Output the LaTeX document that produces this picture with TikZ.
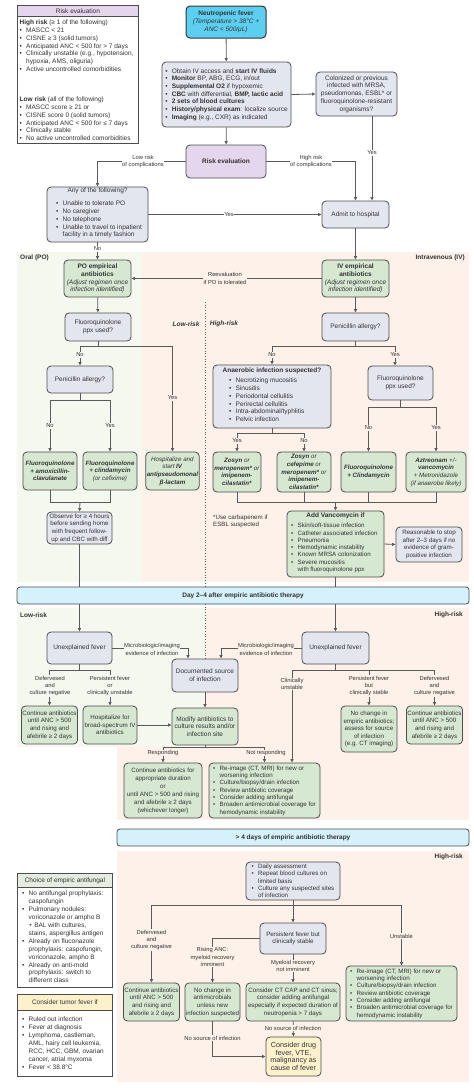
\documentclass[tikz,border=0pt]{standalone}
\usepackage{fontspec}
\setmainfont{Liberation Sans}
\usetikzlibrary{arrows.meta}
\definecolor{txt}{HTML}{333333}
\definecolor{bd}{HTML}{4D4D4D}
\definecolor{lc}{HTML}{5A5A5A}
\definecolor{gfill}{HTML}{E3E6EE}
\definecolor{nfill}{HTML}{D6E7D2}
\definecolor{pfill}{HTML}{E4D6EC}
\definecolor{cfill}{HTML}{5CCFF0}
\definecolor{bfill}{HTML}{D5F1FB}
\definecolor{yfill}{HTML}{FDF1CC}
\definecolor{peach}{HTML}{FDF1E9}
\definecolor{pogrn}{HTML}{F5F8EE}
\definecolor{afhd}{HTML}{E5ECE0}
\newcommand\fA{\fontsize{6.5}{7.7}\selectfont}
\newcommand\fB{\fontsize{6.2}{7.6}\selectfont}
\newcommand\fL{\fontsize{5.8}{7.3}\selectfont}
\newcommand\fR{\fontsize{6.2}{7.3}\selectfont}
\newcommand\mybu{\makebox[6.5pt][l]{\textbullet}}
\newcommand\myind{\hspace*{6.5pt}}
\tikzset{
 bx/.style={draw=bd, line width=0.8pt, rounded corners=4pt, inner sep=1pt, align=center, font=\fB, text=txt},
 gy/.style={bx, fill=gfill},
 gn/.style={bx, fill=nfill},
 ln/.style={draw=lc, line width=0.8pt},
 ar/.style={ln, -{Latex[length=3.5pt,width=3.5pt]}},
 lab/.style={font=\fL, align=center, inner sep=0.6pt, text=txt},
 wd/.style 2 args={minimum width=#1pt, minimum height=#2pt},
 txl/.style={font=\fA, text=txt, align=left, inner sep=0pt, anchor=north west},
 hdr/.style={font=\fA, text=txt, inner sep=0pt},
}
\begin{document}
\begin{tikzpicture}[x=1pt,y=-1pt]
\useasboundingbox (0,0) rectangle (474,1088);
\fill[white] (0,0) rectangle (474,1088);
% backgrounds
\fill[pogrn] (17,252) rectangle (142,582);
\fill[peach] (142,252) rectangle (469,582);
\fill[pogrn] (17,608) rectangle (205,747);
\fill[peach] (205,608) rectangle (469,820);
\fill[peach] (117,747) rectangle (205,820);
\fill[peach] (117,851) rectangle (469,1082);
\draw[lc, dotted, line width=0.7pt] (205,302) -- (205,587);
\draw[lc, dotted, line width=0.7pt] (205,604) -- (205,659);

% risk legend
\node[draw=bd, line width=0.8pt, fill=white, anchor=north west, wd={121}{138}] (rl) at (17,5) {};
\node[draw=bd, line width=0.8pt, fill=pfill, anchor=north west, wd={121}{11}, hdr] (rlh) at (17,5) {Risk evaluation};
\node[txl] (rlt1) at (19.5,20) {\textbf{High risk} (≥ 1 of the following)\\\mybu MASCC < 21\\\mybu CISNE ≥ 3 (solid tumors)\\\mybu Anticipated ANC < 500 for > 7 days\\\mybu Clinically unstable (e.g., hypotension,\\\myind hypoxia, AMS, oliguria)\\\mybu Active uncontrolled comorbidities};
\node[txl] (rlt2) at (19.5,97) {\textbf{Low risk} (all of the following)\\\mybu MASCC score ≥ 21 or\\\mybu CISNE score 0 (solid tumors)\\\mybu Anticipated ANC < 500 for ≤ 7 days\\\mybu Clinically stable\\\mybu No active uncontrolled comorbidities};

% top flow
\node[bx, fill=cfill, wd={80}{32}, font=\fA, line width=1pt, draw=black!80] (nf) at (226,22) {\textbf{Neutropenic fever}\\\textit{(Temperature > 38°C +}\\\textit{ANC < 500/μL)}};
\node[gy, wd={129}{65}, font=\fA, align=left] (wu) at (226.5,94.5) {\mybu Obtain IV access and \textbf{start IV fluids}\\\mybu \textbf{Monitor} BP, ABG, ECG, in/out\\\mybu \textbf{Supplemental O2} if hypoxemic\\\mybu \textbf{CBC} with differential, \textbf{BMP, lactic acid}\\\mybu \textbf{2 sets of blood cultures}\\\mybu \textbf{History/physical exam}: localize source\\\mybu \textbf{Imaging} (e.g., CXR) as indicated};
\node[gy, wd={81}{44}, font=\fA] (col) at (356.5,94) {Colonized or previous\\infected with MRSA,\\pseudomonas, ESBL* or\\fluoroquinolone-resistant\\organisms?};
\node[bx, fill=pfill, wd={80}{33}, font=\fA] (re) at (226,161.5) {\textbf{Risk evaluation}};
\node[gy, wd={101}{55}] (any) at (97.5,214.5) {};
\node[hdr] (anyt) at (97.5,191) {Any of the following?};
\node[txl] (anyb) at (56,201) {\mybu Unable to tolerate PO\\\mybu No caregiver\\\mybu No telephone\\\mybu Unable to travel to inpatient\\\myind facility in a timely fashion};
\node[gy, wd={67}{27}, font=\fA] (adm) at (355.5,214.5) {Admit to hospital};
\node[gn, wd={67}{37}, font=\fA] (iv) at (355.5,278.5) {\textbf{IV empirical}\\\textbf{antibiotics}\\\textit{(Adjust regimen once}\\\textit{infection identified)}};
\node[gn, wd={67}{37}, font=\fA] (po) at (97.5,278.5) {\textbf{PO empirical}\\\textbf{antibiotics}\\\textit{(Adjust regimen once}\\\textit{infection identified)}};
\node[gy, wd={66}{28}, font=\fA] (fql) at (98,327) {Fluoroquinolone\\ppx used?};
\node[gy, wd={67}{28}, font=\fA] (penr) at (355.5,327) {Penicillin allergy?};
\node[gy, wd={66}{27}, font=\fA] (penl) at (80,379.5) {Penicillin allergy?};
\node[gn, wd={54}{38}] (fqa) at (50,471) {\textbf{\textit{Fluoroquinolone}}\\\textbf{\textit{+ amoxicillin-}}\\\textbf{\textit{clavulanate}}};
\node[gn, wd={54}{38}] (fqc) at (110,471) {\textbf{\textit{Fluoroquinolone}}\\\textbf{\textit{+ clindamycin}}\\\textit{(or cefixime)}};
\node[gn, wd={53}{38}] (hosp) at (172.5,471) {\textit{Hospitalize and}\\\textit{start \textbf{IV}}\\\textbf{\textit{antipseudomonal}}\\\textbf{\textit{β-lactam}}};
\node[gy, wd={65}{32}, inner sep=0.5pt] (obs) at (79.5,528) {Observe for ≥ 4 hours\\before sending home\\with frequent follow-\\up and CBC with diff};
\node[gy, wd={118}{63}] (ana) at (272,396.5) {};
\node[hdr, font=\fA\bfseries] (anat) at (272,370.5) {Anaerobic infection suspected?};
\node[txl] (anab) at (229,378) {\mybu Necrotizing mucositis\\\mybu Sinusitis\\\mybu Periodontal cellulitis\\\mybu Perirectal cellulitis\\\mybu Intra-abdominal/typhlitis\\\mybu Pelvic infection};
\node[gy, wd={65}{34}, font=\fA] (fqr) at (400.5,383) {Fluoroquinolone\\ppx used?};
\node[gn, wd={48}{40}] (zo1) at (237,472) {\textbf{\textit{Zosyn}} \textit{or}\\\textbf{\textit{meropenem*}} \textit{or}\\\textbf{\textit{imipenem-}}\\\textbf{\textit{cilastatin*}}};
\node[gn, wd={54}{40}] (zo2) at (304,472) {\textbf{\textit{Zosyn}} \textit{or}\\\textbf{\textit{cefepime}} \textit{or}\\\textbf{\textit{meropenem*}} \textit{or}\\\textbf{\textit{imipenem-}}\\\textbf{\textit{cilastatin*}}};
\node[gn, wd={55}{40}] (fqcr) at (368.5,472) {\textbf{\textit{Fluoroquinolone}}\\\textbf{\textit{+ Clindamycin}}};
\node[gn, wd={60}{40}] (azt) at (436,472) {\textbf{\textit{Aztreonam}} \textit{+/-}\\\textbf{\textit{vancomycin}}\\\textit{+ Metronidazole}\\\textit{(if anaerobe likely)}};
\node[font=\fB, text=txt, align=left, anchor=west, inner sep=0pt] (note) at (213,521.5) {*Use carbapenem if\\ESBL suspected};
\node[gn, wd={97}{66}] (vanc) at (335.5,544) {};
\node[hdr, font=\fA\bfseries] (vanct) at (335.5,516) {Add Vancomycin if};
\node[txl, font=\fR] (vancb) at (291,523) {\mybu Skin/soft-tissue infection\\\mybu Catheter associated infection\\\mybu Pneumonia\\\mybu Hemodynamic instability\\\mybu Known MRSA colonization\\\mybu Severe mucositis\\\myind with fluoroquinolone ppx};
\node[gy, wd={66}{35}] (reas) at (429,544.5) {Reasonable to stop\\after 2–3 days if no\\evidence of gram-\\positive infection};

% section labels
\node[hdr, font=\fA\bfseries, anchor=west] (oral) at (20,258) {Oral (PO)};
\node[hdr, font=\fA\bfseries, anchor=east] (ivl) at (465,258) {Intravenous (IV)};
\node[hdr, font=\fA\bfseries\itshape] (lr1) at (186,324) {Low-risk};
\node[hdr, font=\fA\bfseries\itshape] (hr1) at (224,324) {High-risk};
\node[hdr, font=\fA\bfseries, anchor=west] (lr2) at (20,615) {Low-risk};
\node[hdr, font=\fA\bfseries, anchor=east] (hr2) at (463,615) {High-risk};
\node[hdr, font=\fA\bfseries, anchor=east] (hr3) at (463,857) {High-risk};

% bands
\node[draw=bd, line width=0.8pt, fill=bfill, rounded corners=3pt, wd={452}{17}, font=\fA\bfseries, text=txt] (band1) at (243,595.5) {Day 2–4 after empiric antibiotic therapy};
\node[draw=bd, line width=0.8pt, fill=bfill, rounded corners=3pt, wd={352}{17}, font=\fA\bfseries, text=txt] (band2) at (293,837.5) {> 4 days of empiric antibiotic therapy};

% section 2
\node[gy, wd={65}{32}, font=\fA] (ufl) at (79.5,648) {Unexplained fever};
\node[gy, wd={67}{32}, font=\fA] (ufr) at (335.5,648) {Unexplained fever};
\node[gy, wd={66}{33}, font=\fA] (doc) at (205,675.5) {Documented source\\of infection};
\node[gn, wd={55}{38}] (contl) at (49.5,725) {Continue antibiotics\\until ANC > 500\\and rising and\\afebrile ≥ 2 days};
\node[gn, wd={54}{38}] (hospb) at (110,725) {Hospitalize for\\broad-spectrum IV\\antibiotics};
\node[gn, wd={66}{37}, font=\fA] (mod) at (205,726.5) {Modify antibiotics to\\culture results and/or\\infection site};
\node[gn, wd={56}{46}] (noch) at (369,729) {No change in\\empiric antibiotics;\\assess for source\\of infection\\(e.g. CT imaging)};
\node[gn, wd={55}{38}] (contr) at (434.5,725) {Continue antibiotics\\until ANC > 500\\and rising and\\afebrile ≥ 2 days};
\node[gn, wd={78}{55}, font=\fontsize{6.2}{8}\selectfont] (contresp) at (163,790.5) {Continue antibiotics for\\appropriate duration\\or\\until ANC > 500 and rising\\and afebrile ≥ 2 days\\(whichever longer)};
\node[gn, wd={111}{55}, align=left, font=\fR] (ri1) at (264.5,790.5) {\mybu Re-image (CT, MRI) for new or\\\myind worsening infection\\\mybu Culture/biopsy/drain infection\\\mybu Review antibiotic coverage\\\mybu Consider adding antifungal\\\mybu Broaden antimicrobial coverage for\\\myind hemodynamic instability};

% section 3
\node[gy, wd={94}{38}, align=left, font=\fR] (daily) at (293,881) {\mybu Daily assessment\\\mybu Repeat blood cultures on\\\myind limited basis\\\mybu Culture any suspected sites\\\myind of infection};
\node[gy, wd={66}{31}] (pf) at (293,938.5) {Persistent fever but\\clinically stable};
\node[gn, wd={55}{38}] (cont3) at (151.5,1002) {Continue antibiotics\\until ANC > 500\\and rising and\\afebrile ≥ 2 days};
\node[gn, wd={55}{38}] (noch3) at (212.5,1002) {No change in\\antimicrobials\\unless new\\infection suspected};
\node[gn, wd={94}{38}] (ct) at (293,1002) {Consider CT CAP and CT sinus;\\consider adding antifungal\\especially if expected duration of\\neutropenia > 7 days};
\node[bx, fill=yfill, wd={55}{39}, font=\fontsize{7.2}{7.8}\selectfont] (drug) at (293.5,1056.5) {Consider drug\\fever, VTE,\\malignancy as\\cause of fever};
\node[gn, wd={111}{55}, align=left, font=\fR] (ri3) at (401.5,993.5) {\mybu Re-image (CT, MRI) for new or\\\myind worsening infection\\\mybu Culture/biopsy/drain infection\\\mybu Review antibiotic coverage\\\mybu Consider adding antifungal\\\mybu Broaden antimicrobial coverage for\\\myind hemodynamic instability};

% antifungal legend
\node[draw=bd, line width=0.8pt, fill=white, anchor=north west, wd={95}{114}] (af) at (17,873) {};
\node[draw=bd, line width=0.8pt, fill=afhd, anchor=north west, wd={95}{14}, hdr] (afh) at (17,873) {Choice of empiric antifungal};
\node[txl, font=\fontsize{6.5}{7.9}\selectfont] (aft) at (22,891) {\mybu No antifungal prophylaxis:\\\myind caspofungin\\\mybu Pulmonary nodules:\\\myind voriconazole or ampho B\\\myind + BAL with cultures,\\\myind stains, aspergillus antigen\\\mybu Already on fluconazole\\\myind prophylaxis: caspofungin,\\\myind voriconazole, ampho B\\\mybu Already on anti-mold\\\myind prophylaxis: switch to\\\myind different class};
\node[draw=bd, line width=0.8pt, fill=white, anchor=north west, wd={95}{82}] (tum) at (17,994) {};
\node[draw=bd, line width=0.8pt, fill=yfill, anchor=north west, wd={95}{16}, hdr] (tumh) at (17,994) {Consider tumor fever if};
\node[txl, font=\fontsize{6.5}{8}\selectfont] (tumt) at (22,1017) {\mybu Ruled out infection\\\mybu Fever at diagnosis\\\mybu Lymphoma, castleman,\\\myind AML, hairy cell leukemia,\\\myind RCC, HCC, GBM, ovarian\\\myind cancer, atrial myxoma\\\mybu Fever < 38.8°C};

% ---------- connectors ----------
\draw[ar] (nf) -- (wu);
\draw[ar] (wu.east) -- (col.west);
\draw[ar] (wu) -- (re);
\draw[ar] (re.west) -| (any.north);
\draw[ar] (re.east) -| (adm.north);
\draw[ar] ([xshift=15.5pt]col.south) -- ([xshift=16.5pt]adm.north);
\draw[ar] (any.east) -- (adm.west);
\draw[ar] (any) -- (po);
\draw[ar] (adm) -- (iv);
\draw[ar] (iv.west) -- (po.east);
\draw[ar] (po) -- (fql);
\coordinate (j1) at (98,346);
\draw[ln] (fql.south) -- (j1);
\draw[ar] (j1) -| (penl.north);
\draw[ar] (j1) -| (hosp.north);
\coordinate (j2) at (80,400);
\draw[ln] (penl.south) -- (j2);
\draw[ar] (j2) -| (fqa.north);
\draw[ar] (j2) -| (fqc.north);
\coordinate (j3) at (80,502);
\draw[ln] (fqa.south) |- (j3);
\draw[ln] (fqc.south) |- (j3);
\draw[ar] (j3) -- (obs.north);
\draw[ar] (iv) -- (penr);
\coordinate (j4) at (355.5,346);
\draw[ln] (penr.south) -- (j4);
\draw[ar] (j4) -| (ana.north);
\draw[ar] (j4) -| ([xshift=-5.5pt]fqr.north);
\coordinate (j5) at (272,433);
\draw[ln] (ana.south) -- (j5);
\draw[ar] (j5) -| (zo1.north);
\draw[ar] (j5) -| (zo2.north);
\coordinate (j6) at (400.5,407);
\draw[ln] (fqr.south) -- (j6);
\draw[ar] (j6) -| (fqcr.north);
\draw[ar] (j6) -| (azt.north);
\coordinate (j7) at (335.5,502);
\draw[ln] (zo1.south) |- (j7);
\draw[ln] (zo2.south) |- (j7);
\draw[ln] (fqcr.south) |- (j7);
\draw[ln] (azt.south) |- (j7);
\draw[ar] (j7) -- (vanc.north);
\draw[ar] (vanc.east) -- (reas.west);
\draw[ln] (obs.south) -- (obs.south |- band1.north);
\draw[ar] (ufl.north |- band1.south) -- (ufl.north);
\draw[ln] (vanc.south) -- (vanc.south |- band1.north);
\draw[ar] (ufr.north |- band1.south) -- (ufr.north);
\draw[ar] (ufl.east) -| ([xshift=-17pt]doc.north);
\draw[ar] (ufr.west) -| ([xshift=16pt]doc.north);
\coordinate (j8) at (79.5,670);
\draw[ln] (ufl.south) -- (j8);
\draw[ar] (j8) -| (contl.north);
\draw[ar] (j8) -| (hospb.north);
\draw[ar] (hospb.east) -- (hospb.east -| mod.west);
\draw[ar] (doc) -- (mod);
\coordinate (j9) at (205,747);
\draw[ln] (mod.south) -- (j9);
\draw[ar] (j9) -| (contresp.north);
\draw[ar] (j9) -| (ri1.north);
\coordinate (j10) at (335.5,670);
\draw[ln] (ufr.south) -- (j10);
\draw[ar] (j10) -| ([xshift=27.5pt]ri1.north);
\draw[ar] (j10) -| (noch.north);
\draw[ar] (j10) -| (contr.north);
\coordinate (k1) at (293,905);
\draw[ar] (daily) -- (pf);
\draw[ar] (k1) -| (cont3.north);
\draw[ar] (k1) -| (ri3.north);
\draw[ar] (pf.west) -| (noch3.north);
\draw[ar] (pf) -- (ct);
\draw[ar] (ct) -- (drug);
\draw[ar] (noch3.south) |- (drug.west);

% ---------- labels ----------
\node[lab, fill=white] (l1) at (143,161.5) {Low risk\\of complications};
\node[lab, fill=white] (l2) at (311,161.5) {High risk\\of complications};
\node[lab, fill=white] (l3) at (372,153) {Yes};
\node[lab, fill=white] (l4) at (229,214.5) {Yes};
\node[lab, fill=white] (l5) at (97.5,249) {No};
\node[lab, fill=peach] (l6) at (225,278.5) {Reevaluation\\if PO is tolerated};
\node[lab, fill=pogrn] (l7) at (80,355) {No};
\node[lab, fill=peach] (l8) at (172.5,398) {Yes};
\node[lab, fill=pogrn] (l9) at (50,426) {No};
\node[lab, fill=pogrn] (l10) at (110,426) {Yes};
\node[lab, fill=peach] (l11) at (272,355) {No};
\node[lab, fill=peach] (l12) at (395,355) {Yes};
\node[lab, fill=peach] (l13) at (237,441) {Yes};
\node[lab, fill=peach] (l14) at (304,441) {No};
\node[lab, fill=peach] (l15) at (368.5,428) {No};
\node[lab, fill=peach] (l16) at (436,428) {Yes};
\node[lab, fill=pogrn] (l17) at (152,649.5) {Microbiologic/imaging\\evidence of infection};
\node[lab, fill=peach] (l18) at (266,649.5) {Microbiologic/imaging\\evidence of infection};
\node[lab, fill=pogrn] (l19) at (50,686) {Defervesed\\and\\culture negative};
\node[lab, fill=pogrn] (l20) at (110,686) {Persistent fever\\or\\clinically unstable};
\node[lab, fill=peach] (l21) at (163,753) {Responding};
\node[lab, fill=peach] (l22) at (266,753) {Not responding};
\node[lab, fill=peach] (l23) at (292,684) {Clinically\\unstable};
\node[lab, fill=peach] (l24) at (369,686) {Persistent fever\\but\\clinically stable};
\node[lab, fill=peach] (l25) at (434.5,686) {Defervesed\\and\\culture negative};
\node[lab, fill=peach] (l26) at (151.5,940) {Defervesed\\and\\culture negative};
\node[lab, fill=peach] (l27) at (401.5,936) {Unstable};
\node[lab, fill=peach] (l28) at (212.5,957) {Rising ANC:\\myeloid recovery\\imminent};
\node[lab, fill=peach] (l29) at (293,966) {Myeloid recovery\\not imminent};
\node[lab, fill=peach] (l30) at (293,1028) {No source of infection};
\node[lab, fill=peach] (l31) at (212.5,1038) {No source of infection};
\end{tikzpicture}
\end{document}
